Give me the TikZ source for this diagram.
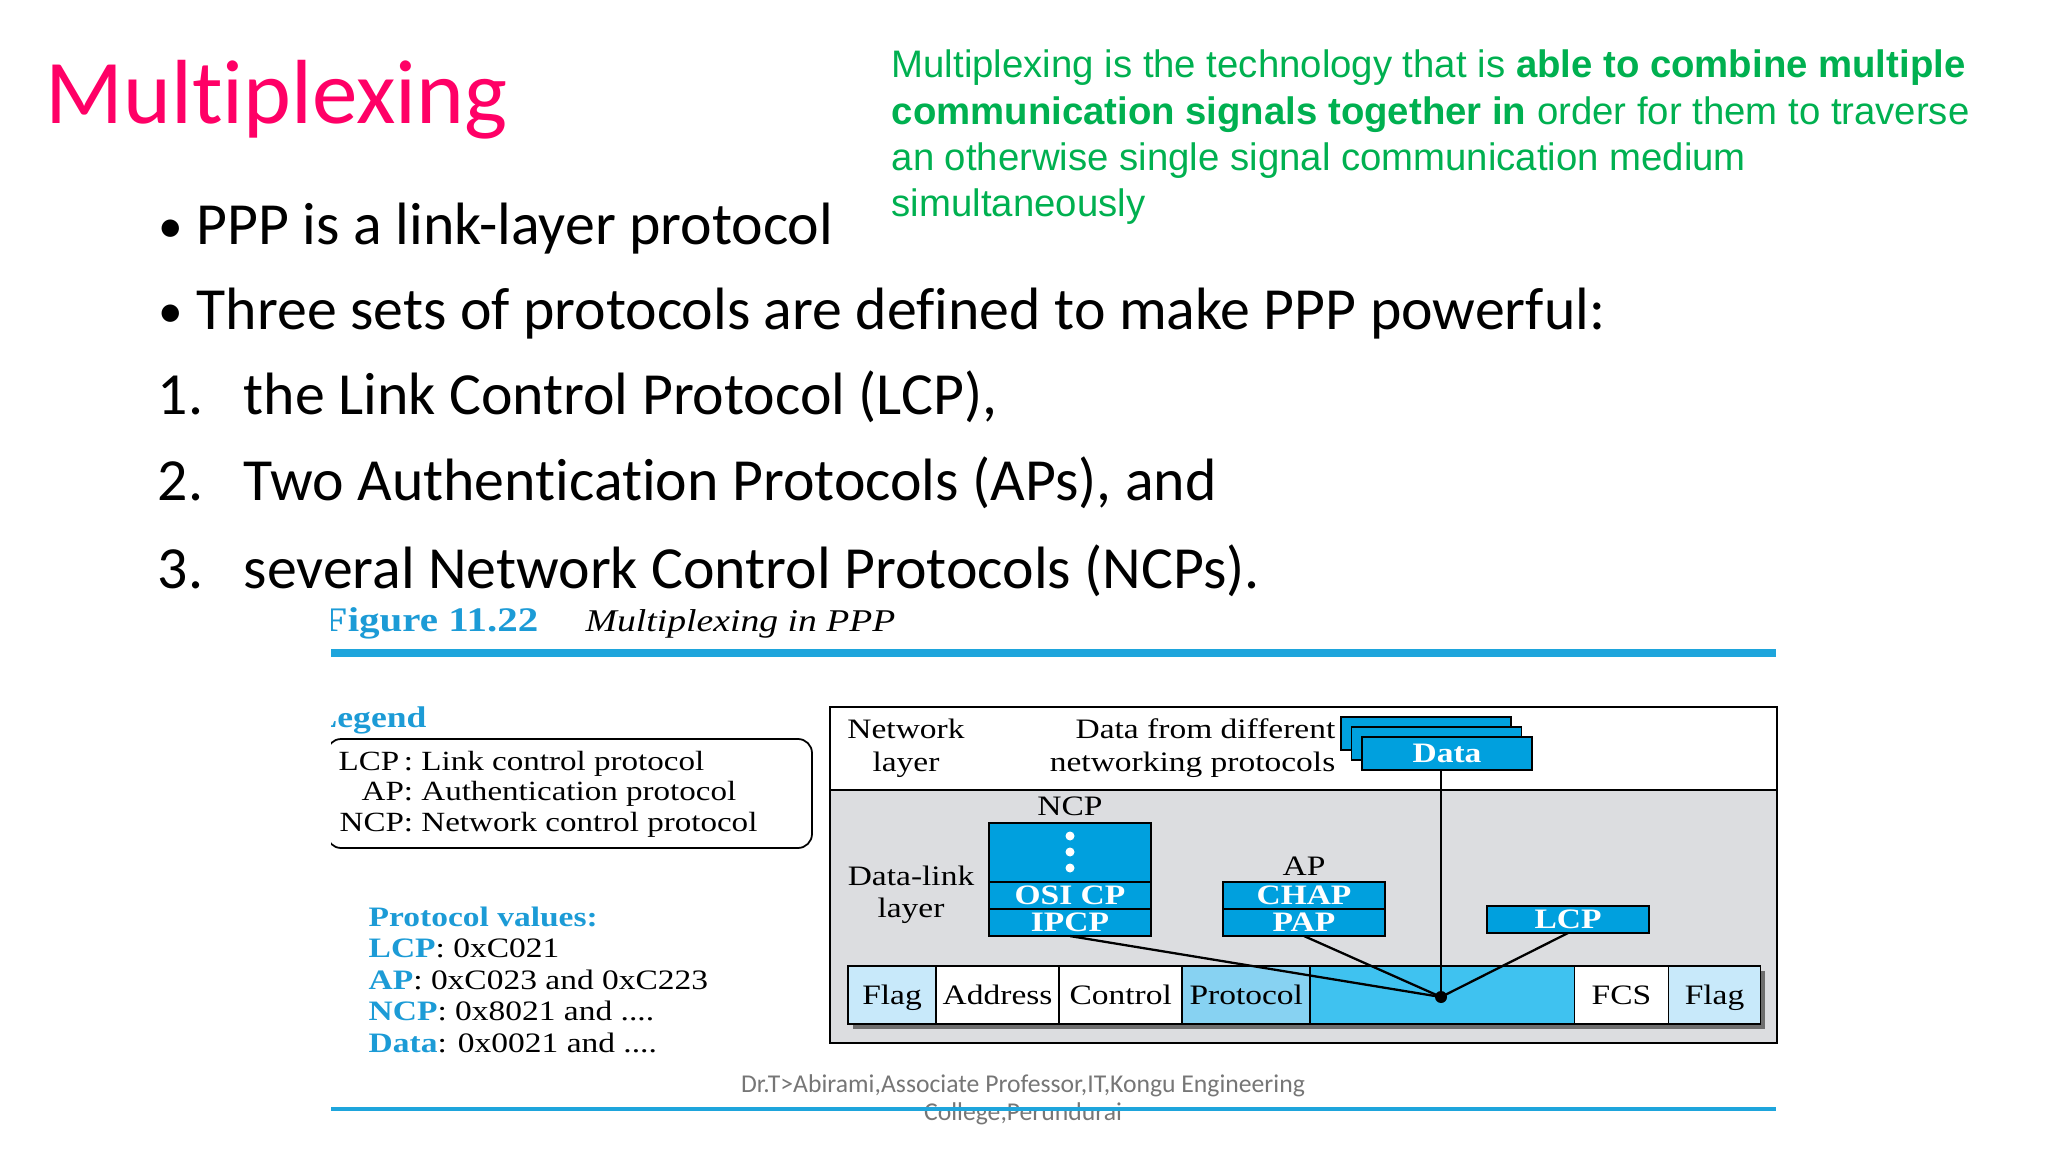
\documentclass[tikz,border=0pt]{standalone}
\usepackage{fontspec}
\setmainfont{Carlito}[Ligatures=NoCommon]
\newfontfamily\notefont{Liberation Sans}
\newfontfamily\figfont[FakeStretch=1.19]{Liberation Serif}
\usetikzlibrary{positioning}

\definecolor{titlepink}{RGB}{255,0,102}
\definecolor{notegreen}{RGB}{0,176,80}
\definecolor{figblue}{RGB}{28,155,214}
\definecolor{rulecol}{RGB}{30,165,220}
\definecolor{boxblue}{RGB}{0,160,222}
\definecolor{cellblue}{RGB}{63,194,240}
\definecolor{protoblue}{RGB}{135,210,242}
\definecolor{flagblue}{RGB}{200,233,250}
\definecolor{linkgray}{RGB}{220,221,224}
\definecolor{shadowgray}{RGB}{110,110,110}
\definecolor{footgray}{RGB}{118,118,118}

\begin{document}
\begin{tikzpicture}[
  x=0.01cm, y=-0.01cm,
  txt/.style={inner sep=0pt, anchor=base west},
  slide/.style={txt, font=\fontsize{17}{20}\selectfont},
  fig/.style={inner sep=0pt, font=\figfont\fontsize{8}{9.4}\selectfont},
  band/.style={draw, line width=0.6pt, minimum width=9.46cm, inner sep=0pt, outer sep=0pt},
  pbox/.style={draw, line width=0.5pt, fill=boxblue, text=white, inner sep=0pt, outer sep=0pt,
    minimum width=1.62cm, minimum height=0.27cm, font=\figfont\fontsize{8}{9}\bfseries\selectfont},
  cell/.style={draw, line width=0.45pt, inner sep=0pt, outer sep=0pt, minimum height=0.58cm,
    text height=6.8pt, text depth=1.3pt, font=\figfont\fontsize{8}{9}\selectfont},
  link/.style={line width=0.65pt}
]
  \useasboundingbox (0,0) rectangle (2048,1152);

  % Slide title
  \node[txt, text=titlepink, font=\fontsize{25.9}{31}\selectfont] (title) at (45,124) {Multiplexing};

  % Green note
  \node[txt, text=notegreen, font=\notefont\fontsize{10.9}{13.1}\selectfont] (note) at (891,78) {%
    \begin{tabular}[t]{@{}l@{}}
      Multiplexing is the technology that is \textbf{able to combine multiple}\\
      \textbf{communication signals together in} order for them to traverse\\
      an otherwise single signal communication medium\\
      simultaneously
    \end{tabular}};

  % Bullets
  \node[slide, font=\fontsize{14}{20}\selectfont] (dot1) at (158,243) {•};
  \node[slide] (item1) at (196,245) {PPP is a link-layer protocol};
  \node[slide, font=\fontsize{14}{20}\selectfont] (dot2) at (158,328) {•};
  \node[slide] (item2) at (196,330) {Three sets of protocols are defined to make PPP powerful:};
  \node[slide] (num1) at (157,415) {1.};
  \node[slide] (sub1) at (243,415) {the Link Control Protocol (LCP),};
  \node[slide] (num2) at (157,501) {2.};
  \node[slide] (sub2) at (243,501) {Two Authentication Protocols (APs), and};
  \node[slide] (num3) at (157,588) {3.};
  \node[slide] (sub3) at (243,588) {several Network Control Protocols (NCPs).};

  % Footer
  \node[inner sep=0pt, anchor=base, text=footgray, font=\fontsize{7.3}{8.2}\selectfont] (footer) at (1023,1092) {%
    \begin{tabular}[t]{@{}c@{}}Dr.T>Abirami,Associate Professor,IT,Kongu Engineering\\College,Perundurai\end{tabular}};

  % Figure caption and rules (left edge cropped)
  \begin{scope}
    \clip (331,560) rectangle (1800,1152);
    \node[txt, text=figblue, font=\figfont\fontsize{9.8}{11}\bfseries\selectfont] (fignum) at (322,632) {Figure 11.22};
    \node[txt, font=\figfont\fontsize{9}{11}\itshape\selectfont] (figcap) at (585,632) {Multiplexing in PPP};
    \draw[rulecol, line width=2pt] (330,653) -- (1776,653);
    \draw[rulecol, line width=1pt] (330,1109) -- (1776,1109);

    % Legend
    \node[txt, text=figblue, font=\figfont\fontsize{8.5}{10}\bfseries\selectfont] (legend) at (313,727) {Legend};
    \draw[rounded corners=4pt, line width=0.5pt] (327,739) rectangle (812,848);
    \node[txt, fig, font=\figfont\fontsize{7.9}{8.8}\selectfont] (legendtxt) at (338,770) {%
      \begin{tabular}[t]{@{}r@{\ }l@{}}
        LCP\,: & Link control protocol\\
        AP: & Authentication protocol\\
        NCP: & Network control protocol
      \end{tabular}};
  \end{scope}

  % Protocol values
  \node[txt, fig, font=\figfont\fontsize{8}{9}\selectfont] (values) at (368,926) {%
    \begin{tabular}[t]{@{}l@{}}
      \textcolor{figblue}{\bfseries Protocol values:}\\
      \textcolor{figblue}{\bfseries LCP}: 0xC021\\
      \textcolor{figblue}{\bfseries AP}: 0xC023 and 0xC223\\
      \textcolor{figblue}{\bfseries NCP}: 0x8021 and ....\\
      \textcolor{figblue}{\bfseries Data}: 0x0021 and ....
    \end{tabular}};

  % Layers
  \node[band, fill=white, minimum height=0.83cm, anchor=north west] (netband) at (830,707) {};
  \node[band, fill=linkgray, minimum height=2.53cm, below=0pt of netband] (linkband) {};
  \node[fig, anchor=base] (netlabel) at (906,738) {\begin{tabular}[t]{@{}c@{}}Network\\layer\end{tabular}};
  \node[fig, anchor=base east] (datalabel) at (1336,738) {%
    \begin{tabular}[t]{@{}r@{}}Data from different\\networking protocols\end{tabular}};
  \node[fig, anchor=base, font=\figfont\fontsize{8}{9.1}\selectfont] (dllabel) at (911,885) {%
    \begin{tabular}[t]{@{}c@{}}Data-link\\layer\end{tabular}};

  % Data from the network layer
  \node[pbox, minimum width=1.7cm, minimum height=0.33cm, anchor=north west] (data3) at (1341,717) {};
  \node[pbox, minimum width=1.7cm, minimum height=0.33cm, anchor=north west] (data2) at ([shift={(10.5,10)}]data3.north west) {};
  \node[pbox, minimum width=1.7cm, minimum height=0.33cm, anchor=north west] (data) at ([shift={(10.5,10)}]data2.north west) {Data};

  % NCP
  \node[fig, anchor=base] (ncplabel) at (1070,815) {NCP};
  \node[pbox, minimum height=0.59cm, anchor=north] (ncpdots) at (1070,823) {};
  \fill[white] (ncpdots.north) ++(0,13) circle (4.5);
  \fill[white] (ncpdots.north) ++(0,29) circle (4.5);
  \fill[white] (ncpdots.north) ++(0,45) circle (4.5);
  \node[pbox, below=0pt of ncpdots] (osicp) {OSI CP};
  \node[pbox, below=0pt of osicp] (ipcp) {IPCP};

  % AP
  \node[fig, anchor=base] (aplabel) at (1304,875) {AP};
  \node[pbox, anchor=north] (chap) at (1304,882) {CHAP};
  \node[pbox, below=0pt of chap] (pap) {PAP};

  % LCP
  \node[pbox, anchor=north] (lcp) at (1568,906) {LCP};

  % PPP frame
  \fill[shadowgray] (853,971) rectangle (1765,1029);
  \node[cell, fill=flagblue, minimum width=0.88cm, anchor=north west] (flag1) at (848,966) {Flag};
  \node[cell, fill=white, minimum width=1.23cm, right=0pt of flag1] (addr) {Address};
  \node[cell, fill=white, minimum width=1.23cm, right=0pt of addr] (ctrl) {Control};
  \node[cell, fill=protoblue, minimum width=1.28cm, right=0pt of ctrl] (proto) {Protocol};
  \node[cell, fill=cellblue, minimum width=2.64cm, right=0pt of proto] (payload) {};
  \node[cell, fill=white, minimum width=0.94cm, right=0pt of payload] (fcs) {FCS};
  \node[cell, fill=flagblue, minimum width=0.92cm, right=0pt of fcs] (flag2) {Flag};

  % Multiplexing point
  \coordinate (mux) at (1441,997);
  \draw[link] (data.south -| mux) -- (mux);
  \draw[link] (ipcp.south) -- (mux);
  \draw[link] (pap.south) -- (mux);
  \draw[link] (lcp.south) -- (mux);
  \fill (mux) circle (6);
\end{tikzpicture}
\end{document}
